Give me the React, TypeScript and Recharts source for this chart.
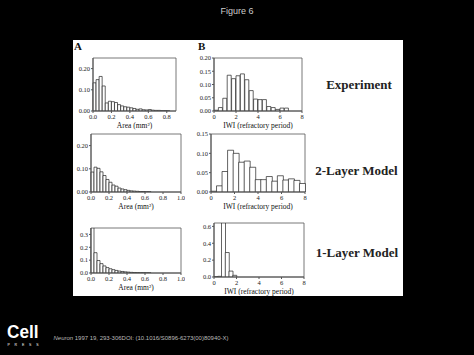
import React from 'react';
import { BarChart, Bar, XAxis, YAxis, ReferenceArea } from 'recharts';

// histogram heights (fraction of events), one entry per bin
const AREA_EXP = [0.133, 0.148, 0.163, 0.118, 0.038, 0.046, 0.044, 0.04, 0.03, 0.024, 0.02, 0.018, 0.015, 0.012, 0.008, 0.01, 0.006, 0.005, 0.007, 0.004, 0.003, 0.003, 0.002, 0.002, 0.001, 0, 0];
const AREA_2L = [0.086, 0.107, 0.102, 0.087, 0.071, 0.054, 0.042, 0.03, 0.025, 0.017, 0.013, 0.01, 0.007, 0.005, 0.004, 0.003, 0.002, 0.002, 0.001, 0.001, 0, 0, 0, 0, 0, 0, 0, 0, 0, 0];
const AREA_1L = [0.35, 0.158, 0.097, 0.073, 0.055, 0.042, 0.033, 0.026, 0.02, 0.015, 0.012, 0.009, 0.007, 0.005, 0.004, 0.003, 0.002, 0.002, 0.001, 0.001, 0, 0, 0, 0, 0, 0, 0, 0, 0, 0];
const IWI_EXP = [0.003, 0.013, 0.048, 0.135, 0.122, 0.133, 0.14, 0.118, 0.077, 0.045, 0.043, 0.043, 0.017, 0.013, 0.006, 0.011, 0.011, 0, 0, 0];
const IWI_2L = [0.002, 0.016, 0.053, 0.108, 0.1, 0.077, 0.08, 0.064, 0.032, 0.032, 0.04, 0.028, 0.042, 0.031, 0.034, 0.03, 0.022];
const IWI_1L = [0.003, 0.008, 0.64, 0.29, 0.07, 0.02, 0, 0, 0, 0, 0, 0, 0, 0, 0, 0, 0, 0, 0, 0, 0, 0, 0, 0];

const AREA_TICKS_EXP = [0, 0.2, 0.4, 0.6, 0.8];
const AREA_TICKS_MODEL = [0, 0.2, 0.4, 0.6, 0.8, 1.0];
const IWI_TICKS = [0, 2, 4, 6, 8];
const Y_TICKS_A = [0, 0.1, 0.2];
const Y_TICKS_A3 = [0, 0.1, 0.2, 0.3];
const Y_TICKS_B1 = [0, 0.05, 0.1, 0.15, 0.2];
const Y_TICKS_B2 = [0, 0.05, 0.1, 0.15];
const Y_TICKS_B3 = [0, 0.2, 0.4, 0.6];

const ROW_LABELS = ['Experiment', '2-Layer Model', '1-Layer Model'];

const SERIF = '"Liberation Serif", "Times New Roman", serif';
const SANS = '"Liberation Sans", Arial, sans-serif';

const YW = 24;
const XH = 20;
const MT = 4;
const MR = 4;

type HistProps = {
  values: number[];
  xMax: number;
  xTicks: number[];
  xDigits: number;
  yMax: number;
  yTicks: number[];
  yDigits: number;
  xLabel: string;
  left: number;
  top: number;
  w: number;
  h: number;
};

function Hist(p: HistProps) {
  const binW = p.xMax / p.values.length;
  const rows = p.values.map((v, i) => ({ bin: i, x: i * binW + binW / 2, v }));
  const tickStyle = { fontSize: 6.5, fill: '#222', fontFamily: SERIF };

  return (
    <div style={{ position: 'absolute', left: p.left - YW, top: p.top - MT }}>
      <BarChart
        width={p.w + YW + MR}
        height={p.h + MT + XH}
        data={rows}
        margin={{ top: MT, right: MR, left: 0, bottom: 0 }}
        barCategoryGap={0}
      >
        <XAxis
          xAxisId="num"
          dataKey="x"
          type="number"
          domain={[0, p.xMax]}
          ticks={p.xTicks}
          interval={0}
          allowDataOverflow
          height={XH}
          tickSize={2}
          tickMargin={1}
          stroke="#555"
          tick={tickStyle}
          tickFormatter={(t: number) => t.toFixed(p.xDigits)}
          label={{ value: p.xLabel, position: 'insideBottom', offset: 3, fontSize: 7.5, fill: '#111', fontFamily: SERIF }}
        />
        <XAxis xAxisId="cat" dataKey="bin" orientation="top" height={0} hide />
        <YAxis
          type="number"
          domain={[0, p.yMax]}
          ticks={p.yTicks}
          interval={0}
          allowDataOverflow
          width={YW}
          tickSize={2}
          tickMargin={1}
          stroke="#555"
          tick={tickStyle}
          tickFormatter={(t: number) => t.toFixed(p.yDigits)}
        />
        <ReferenceArea
          xAxisId="num"
          x1={0}
          x2={p.xMax}
          y1={0}
          y2={p.yMax}
          fill="none"
          stroke="#555"
          strokeWidth={0.8}
          ifOverflow="visible"
        />
        <Bar xAxisId="cat" dataKey="v" fill="#fff" stroke="#222" strokeWidth={0.7} isAnimationActive={false} />
      </BarChart>
    </div>
  );
}

export default function App() {
  const area = 'Area (mm²)';
  const iwi = 'IWI (refractory period)';
  return (
    <div style={{ position: 'absolute', left: 0, top: 0, width: 474, height: 355, background: '#000', overflow: 'hidden' }}>
      <svg width={474} height={355} style={{ position: 'absolute', left: 0, top: 0 }}>
        <text x={237} y={13.5} textAnchor="middle" fontSize={9} fill="#ccc" fontFamily={SANS}>Figure 6</text>
        <rect x={73} y={40} width={330} height={256} fill="#fff" />
        <text x={74} y={50} fontSize={11} fontWeight="bold" fontFamily={SERIF} fill="#111">A</text>
        <text x={198} y={50} fontSize={11} fontWeight="bold" fontFamily={SERIF} fill="#111">B</text>
        <text x={359} y={89.3} textAnchor="middle" fontSize={13} fontWeight="bold" fontFamily={SERIF} fill="#222">{ROW_LABELS[0]}</text>
        <text x={356.5} y={175} textAnchor="middle" fontSize={13} fontWeight="bold" fontFamily={SERIF} fill="#222">{ROW_LABELS[1]}</text>
        <text x={357} y={256.7} textAnchor="middle" fontSize={13} fontWeight="bold" fontFamily={SERIF} fill="#222">{ROW_LABELS[2]}</text>
        <text x={7} y={338} fontSize={19} fontWeight="bold" fontFamily={SANS} fill="#fff" textLength={31.5} lengthAdjust="spacingAndGlyphs">Cell</text>
        <text x={7.5} y={345.5} fontSize={3.5} fontFamily={SANS} fill="#fff" textLength={31} lengthAdjust="spacing">PRESS</text>
        <text x={53.5} y={339.5} fontSize={5.5} fontFamily={SANS} fill="#bbb" textLength={175} lengthAdjust="spacingAndGlyphs">
          <tspan fontStyle="italic">Neuron</tspan> 1997 19, 293-306DOI: (10.1016/S0896-6273(00)80940-X)
        </text>
      </svg>

      <Hist values={AREA_EXP} xMax={0.9} xTicks={AREA_TICKS_EXP} xDigits={1} yMax={0.25} yTicks={Y_TICKS_A} yDigits={2} xLabel={area} left={93} top={58} w={83} h={53} />
      <Hist values={AREA_2L} xMax={1.0} xTicks={AREA_TICKS_MODEL} xDigits={1} yMax={0.25} yTicks={Y_TICKS_A} yDigits={2} xLabel={area} left={91} top={134} w={90} h={58} />
      <Hist values={AREA_1L} xMax={1.0} xTicks={AREA_TICKS_MODEL} xDigits={1} yMax={0.35} yTicks={Y_TICKS_A3} yDigits={1} xLabel={area} left={91} top={228} w={90} h={45} />

      <Hist values={IWI_EXP} xMax={8} xTicks={IWI_TICKS} xDigits={0} yMax={0.2} yTicks={Y_TICKS_B1} yDigits={2} xLabel={iwi} left={214} top={58} w={88} h={53} />
      <Hist values={IWI_2L} xMax={8} xTicks={IWI_TICKS} xDigits={0} yMax={0.15} yTicks={Y_TICKS_B2} yDigits={2} xLabel={iwi} left={211} top={134} w={94} h={58} />
      <Hist values={IWI_1L} xMax={8} xTicks={IWI_TICKS} xDigits={0} yMax={0.64} yTicks={Y_TICKS_B3} yDigits={1} xLabel={iwi} left={214} top={223} w={90} h={54} />
    </div>
  );
}
